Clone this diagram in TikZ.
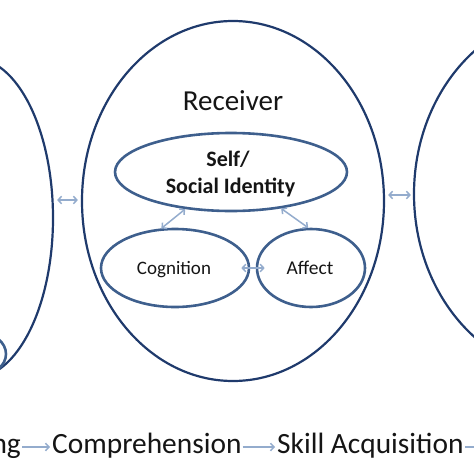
\documentclass[tikz,border=0pt]{standalone}
\usepackage{fontspec}
\setmainfont{Carlito}
\usetikzlibrary{shapes.geometric,arrows.meta}
\definecolor{navy}{HTML}{1F3A6C}
\definecolor{steel}{HTML}{3E5F8D}
\definecolor{arrowc}{HTML}{94ACCD}
\definecolor{txt}{HTML}{151515}
\tikzset{
  bigell/.style={ellipse,draw=navy,line width=2.2pt,inner sep=0pt},
  smallell/.style={ellipse,draw=steel,line width=2.6pt,inner sep=0pt},
  arr/.style={draw=arrowc,line width=1.5pt,{Straight Barb[length=3.5pt,width=7.5pt]}-{Straight Barb[length=3.5pt,width=7.5pt]}},
  arrone/.style={draw=arrowc,line width=1.5pt,-{Straight Barb[length=3.5pt,width=7.5pt]}},
  lbl/.style={inner sep=0pt,text=txt},
}
\begin{document}
\begin{tikzpicture}[x=1pt,y=-1pt]
\useasboundingbox (0,0) rectangle (474,474);
\clip (0,0) rectangle (474,474);
% big ellipses
\node[bigell,minimum width=160pt,minimum height=320pt] (L) at (-27,218) {};
\node[bigell,minimum width=302pt,minimum height=360pt] (C) at (233,201) {};
\node[bigell,minimum width=308pt,minimum height=360pt] (R) at (568,194) {};
\node[smallell,minimum width=52pt,minimum height=42pt] (Ls) at (-20,354) {};
% inner ellipses
\node[smallell,minimum width=232pt,minimum height=78pt] (S) at (231,172) {};
\node[smallell,minimum width=148pt,minimum height=78pt] (Co) at (175,268) {};
\node[smallell,minimum width=108pt,minimum height=78pt] (A) at (311,268) {};
% texts
\node[lbl,anchor=base,font=\fontsize{29}{33}\selectfont] (rec) at (233,110) {Receiver};
\node[lbl,anchor=base,font=\bfseries\fontsize{22}{26}\selectfont] (self) at (228,166) {Self/};
\node[lbl,anchor=base,font=\bfseries\fontsize{22}{26}\selectfont] (soc) at (230.5,193) {Social Identity};
\node[lbl,anchor=base,font=\fontsize{19}{23}\selectfont] (cog) at (174,274) {Cognition};
\node[lbl,anchor=base,font=\fontsize{19.5}{23}\selectfont] (aff) at (310,274) {Affect};
\node[lbl,anchor=base east,font=\fontsize{29.4}{34}\selectfont] (ng) at (21,453) {ng};
\node[lbl,anchor=base west,font=\fontsize{29.4}{34}\selectfont] (comp) at (52,453) {Comprehension};
\node[lbl,anchor=base west,font=\fontsize{29.4}{34}\selectfont] (skill) at (277,453) {Skill Acquisition};
\coordinate (out) at (480,447);
% connectors
\draw[arr,shorten <=3pt,shorten >=3pt] (L.east |- 0,200) -- (C.west |- 0,200);
\draw[arr,shorten <=3pt,shorten >=2pt] (C.east |- 0,195) -- (R.west |- 0,195);
\draw[arr] (Co.109) -- (S.219);
\draw[arr] (S.-36) -- (A.94);
\draw[arr,shorten <=-9pt,shorten >=-9pt] (Co.east) -- (A.west);
\draw[arrone,shorten <=1pt,shorten >=2pt] ([yshift=6pt]ng.base east) -- ([yshift=6pt]comp.base west);
\draw[arrone,shorten <=1pt,shorten >=2pt] ([yshift=6pt]comp.base east) -- ([yshift=6pt]skill.base west);
\draw[arrone,shorten <=1pt] ([yshift=6pt]skill.base east) -- (out);
\end{tikzpicture}
\end{document}
